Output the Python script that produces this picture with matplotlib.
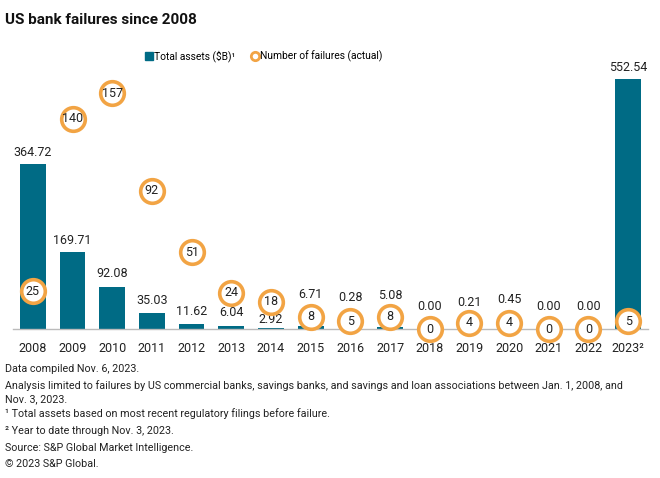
import matplotlib
matplotlib.use("Agg")
import matplotlib.pyplot as plt
from matplotlib.lines import Line2D
import numpy as np

plt.rcParams['font.family'] = ['Roboto', 'DejaVu Sans']

years = ["2008", "2009", "2010", "2011", "2012", "2013", "2014", "2015",
         "2016", "2017", "2018", "2019", "2020", "2021", "2022", "2023²"]
assets = [364.72, 169.71, 92.08, 35.03, 11.62, 6.04, 2.92, 6.71,
          0.28, 5.08, 0.00, 0.21, 0.45, 0.00, 0.00, 552.54]
failures = [25, 140, 157, 92, 51, 24, 18, 8, 5, 8, 0, 4, 4, 0, 0, 5]

# label offsets above bar top (pixels) -- layout only
label_offsets = [12, 12, 14, 13, 12, 14, 8, 31, 31, 31, 23, 26, 29, 22, 22, 12]

TEAL = "#006B85"
ORANGE = "#F2A444"

W, H = 660, 478
fig = plt.figure(figsize=(W / 100, H / 100), dpi=100)
left, right = 13, 648
base, top = 329, 60
ax = fig.add_axes([left / W, (H - base) / H, (right - left) / W, (base - top) / H])
ax2 = ax.twinx()

x = np.arange(len(years))
ax.bar(x, assets, width=0.65, color=TEAL, zorder=2)
ax.set_xlim(-0.5, len(years) - 0.5)
ax.set_ylim(0, (base - top) / 0.4524)
ax2.set_ylim(0, (base - top) / 1.503)

for xi, v, off in zip(x, assets, label_offsets):
    ax.annotate(f"{v:.2f}", (xi, v), xytext=(0, off), textcoords="offset pixels",
                ha="center", va="center", fontsize=9, color="#222222")

ax2.plot(x, failures, linestyle="none", marker="o", markersize=17,
         markerfacecolor="white", markeredgecolor=ORANGE, markeredgewidth=2.6,
         clip_on=False, zorder=3)
for xi, c in zip(x, failures):
    ax2.text(xi, c, str(c), ha="center", va="center", fontsize=9,
             color="#222222", zorder=4, clip_on=False)

for a in (ax, ax2):
    for s in ["top", "right", "left"]:
        a.spines[s].set_visible(False)
    a.set_yticks([])
ax2.spines["bottom"].set_visible(False)
ax.spines["bottom"].set_color("#BBBBBB")
ax.spines["bottom"].set_linewidth(1.0)
ax.set_xticks(x)
ax.set_xticklabels(years, fontsize=9, color="#222222")
ax.tick_params(axis="x", length=0, pad=9)
ax.set_zorder(1)
ax2.set_zorder(2)
ax.patch.set_visible(False)

fig.text(5 / W, 1 - 20 / H, "US bank failures since 2008", fontsize=11,
         fontweight="bold", va="center", ha="left", color="#111111")

handles = [
    Line2D([], [], linestyle="none", marker="s", markersize=5.5,
           markerfacecolor=TEAL, markeredgecolor=TEAL),
    Line2D([], [], linestyle="none", marker="o", markersize=6,
           markerfacecolor="white", markeredgecolor=ORANGE, markeredgewidth=2),
]
fig.legend(handles, ["Total assets ($B)¹", "Number of failures (actual)"],
           loc="center", bbox_to_anchor=(264 / W, 1 - 56 / H), ncol=2,
           frameon=False, fontsize=7.4, handletextpad=0.1, columnspacing=1.5,
           handlelength=0.8)

notes = [
    (369, "Data compiled Nov. 6, 2023."),
    (386, "Analysis limited to failures by US commercial banks, savings banks, and savings and loan associations between Jan. 1, 2008, and"),
    (399, "Nov. 3, 2023."),
    (414, "¹ Total assets based on most recent regulatory filings before failure."),
    (431, "² Year to date through Nov. 3, 2023."),
    (448, "Source: S&P Global Market Intelligence."),
    (464, "© 2023 S&P Global."),
]
for yy, t in notes:
    fig.text(5 / W, 1 - yy / H, t, fontsize=7.75, va="center", ha="left",
             color="#222222")

fig.savefig("out.png", dpi=100)
